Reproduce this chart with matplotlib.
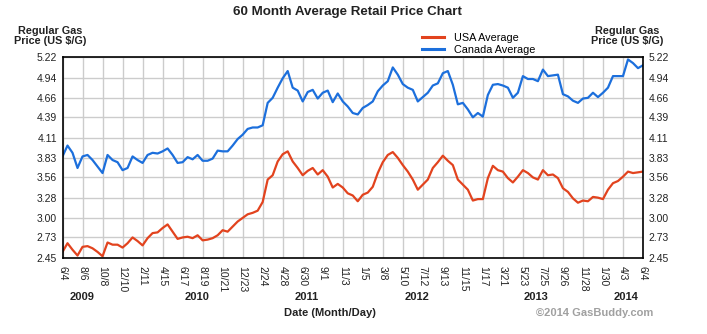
import matplotlib.pyplot as plt
import numpy as np

plt.rcParams["font.family"] = ["Liberation Sans", "DejaVu Sans"]

# x ticks: one every 9 weeks, 6/4/2009 .. 6/4/2014
TICK_LABELS = ["6/4", "8/6", "10/8", "12/10", "2/11", "4/15", "6/17", "8/19",
               "10/21", "12/23", "2/24", "4/28", "6/30", "9/1", "11/3", "1/5",
               "3/8", "5/10", "7/12", "9/13", "11/15", "1/17", "3/21", "5/23",
               "7/25", "9/26", "11/28", "1/30", "4/3", "6/4"]
YEARS = ["2009", "2010", "2011", "2012", "2013", "2014"]
YEAR_POS = [1.0, 6.7, 12.2, 17.7, 23.65, 28.15]
Y_TICKS = [2.45, 2.73, 3.00, 3.28, 3.56, 3.83, 4.11, 4.39, 4.66, 4.94, 5.22]

# sampled every quarter tick interval (~2 weeks)
usa = [
    2.53, 2.65, 2.56, 2.48, 2.60, 2.61, 2.58, 2.53, 2.47, 2.66, 2.63, 2.63,
    2.59, 2.65, 2.73, 2.68, 2.62, 2.72, 2.79, 2.80, 2.86, 2.91, 2.81, 2.71,
    2.73, 2.74, 2.72, 2.76, 2.69,
    2.70, 2.72, 2.76, 2.83, 2.81, 2.88, 2.95, 3.00, 3.05, 3.07, 3.10, 3.22,
    3.53, 3.59, 3.78, 3.88, 3.92, 3.78, 3.69, 3.59, 3.65, 3.69, 3.60, 3.66,
    3.57, 3.42, 3.47, 3.42, 3.34,
    3.31, 3.23, 3.32, 3.35, 3.43, 3.62, 3.77, 3.87, 3.91, 3.83, 3.73, 3.64,
    3.53, 3.39, 3.46, 3.53, 3.69, 3.77, 3.86, 3.79, 3.73, 3.53, 3.46, 3.39,
    3.24, 3.26, 3.26, 3.55, 3.72,
    3.66, 3.64, 3.55, 3.49, 3.57, 3.66, 3.62, 3.56, 3.53, 3.66, 3.59, 3.60,
    3.55, 3.41, 3.36, 3.27, 3.21, 3.24, 3.23, 3.29, 3.28, 3.26, 3.39, 3.48,
    3.51, 3.57, 3.64, 3.62, 3.63, 3.64,
]
canada = [
    3.85, 4.00, 3.90, 3.69, 3.85, 3.87, 3.80, 3.71, 3.62, 3.87, 3.80, 3.77,
    3.66, 3.69, 3.85, 3.80, 3.76, 3.87, 3.90, 3.89, 3.92, 3.96, 3.87, 3.76,
    3.77, 3.84, 3.81, 3.87, 3.79,
    3.79, 3.82, 3.93, 3.92, 3.92, 4.00, 4.09, 4.15, 4.23, 4.25, 4.25, 4.28,
    4.59, 4.66, 4.80, 4.93, 5.03, 4.80, 4.76, 4.61, 4.74, 4.77, 4.65, 4.73,
    4.76, 4.60, 4.72, 4.61, 4.54,
    4.45, 4.43, 4.52, 4.56, 4.61, 4.75, 4.83, 4.89, 5.08, 4.98, 4.85, 4.80,
    4.77, 4.61, 4.67, 4.73, 4.83, 4.86, 5.00, 5.03, 4.84, 4.57, 4.59, 4.50,
    4.39, 4.45, 4.40, 4.70, 4.84,
    4.85, 4.83, 4.80, 4.66, 4.73, 4.96, 4.92, 4.92, 4.89, 5.05, 4.96, 4.97,
    4.98, 4.71, 4.68, 4.62, 4.59, 4.65, 4.66, 4.73, 4.67, 4.73, 4.80, 4.96,
    4.96, 4.96, 5.19, 5.14, 5.07, 5.11,
]

USA_COLOR = "#e2431e"
CAN_COLOR = "#1c6fdc"
TEXT = "#222222"

x = np.linspace(0, len(TICK_LABELS) - 1, len(usa))

fig = plt.figure(figsize=(7.07, 3.34), dpi=100)
ax = fig.add_axes([62.5 / 707, 76.3 / 334, 580.5 / 707, 200.4 / 334])

usa_line, = ax.plot(x, usa, color=USA_COLOR, linewidth=1.6,
                    solid_joinstyle="round", label="USA Average")
can_line, = ax.plot(x, canada, color=CAN_COLOR, linewidth=1.6,
                    solid_joinstyle="round", label="Canada Average")

ax.set_xlim(0, len(TICK_LABELS) - 1)
ax.set_ylim(Y_TICKS[0], Y_TICKS[-1])
ax.set_xticks(range(len(TICK_LABELS)))
ax.set_xticklabels(TICK_LABELS, rotation=-90, fontsize=7.5, color=TEXT)
ax.set_yticks(Y_TICKS)
ax.set_yticklabels([f"{v:.2f}" for v in Y_TICKS], fontsize=7.5, color=TEXT)
ax.tick_params(axis="both", length=0)
ax.tick_params(axis="y", labelright=True, pad=4)
ax.tick_params(axis="x", pad=6)
ax.grid(color="#cccccc", linewidth=1)
ax.set_axisbelow(True)
for sp in ax.spines.values():
    sp.set_color("black")
    sp.set_linewidth(1.2)

for yr, pos in zip(YEARS, YEAR_POS):
    ax.text(pos, -0.195, yr, transform=ax.get_xaxis_transform(), ha="center",
            va="center", fontsize=8, fontweight="bold", color=TEXT)

fig.text(347 / 707, 1 - 12 / 334, "60 Month Average Retail Price Chart",
         ha="center", va="center", fontsize=9.6, fontweight="bold", color=TEXT)
ylab = "Regular Gas\nPrice (US $/G)"
fig.text(50 / 707, 1 - 36 / 334, ylab, ha="center", va="center", fontsize=7.8,
         fontweight="bold", color=TEXT, linespacing=1.0)
fig.text(627 / 707, 1 - 36 / 334, ylab, ha="center", va="center", fontsize=7.8,
         fontweight="bold", color=TEXT, linespacing=1.0)
fig.text(330 / 707, 1 - 313 / 334, "Date (Month/Day)", ha="center", va="center",
         fontsize=8, fontweight="bold", color=TEXT)
fig.text(595 / 707, 1 - 313 / 334, "\u00a92014 GasBuddy.com", ha="center",
         va="center", fontsize=8, fontweight="bold", color="#a0a0a0")

fig.legend(handles=[usa_line, can_line], loc="upper left",
           bbox_to_anchor=(422 / 707, 1 - 33 / 334), frameon=False,
           fontsize=7.8, handlelength=2.0, handletextpad=1.0, labelspacing=0.15,
           borderpad=0, borderaxespad=0)
for line in fig.legends[0].get_lines():
    line.set_linewidth(2.2)

fig.savefig("out.png", dpi=100, facecolor="white")
